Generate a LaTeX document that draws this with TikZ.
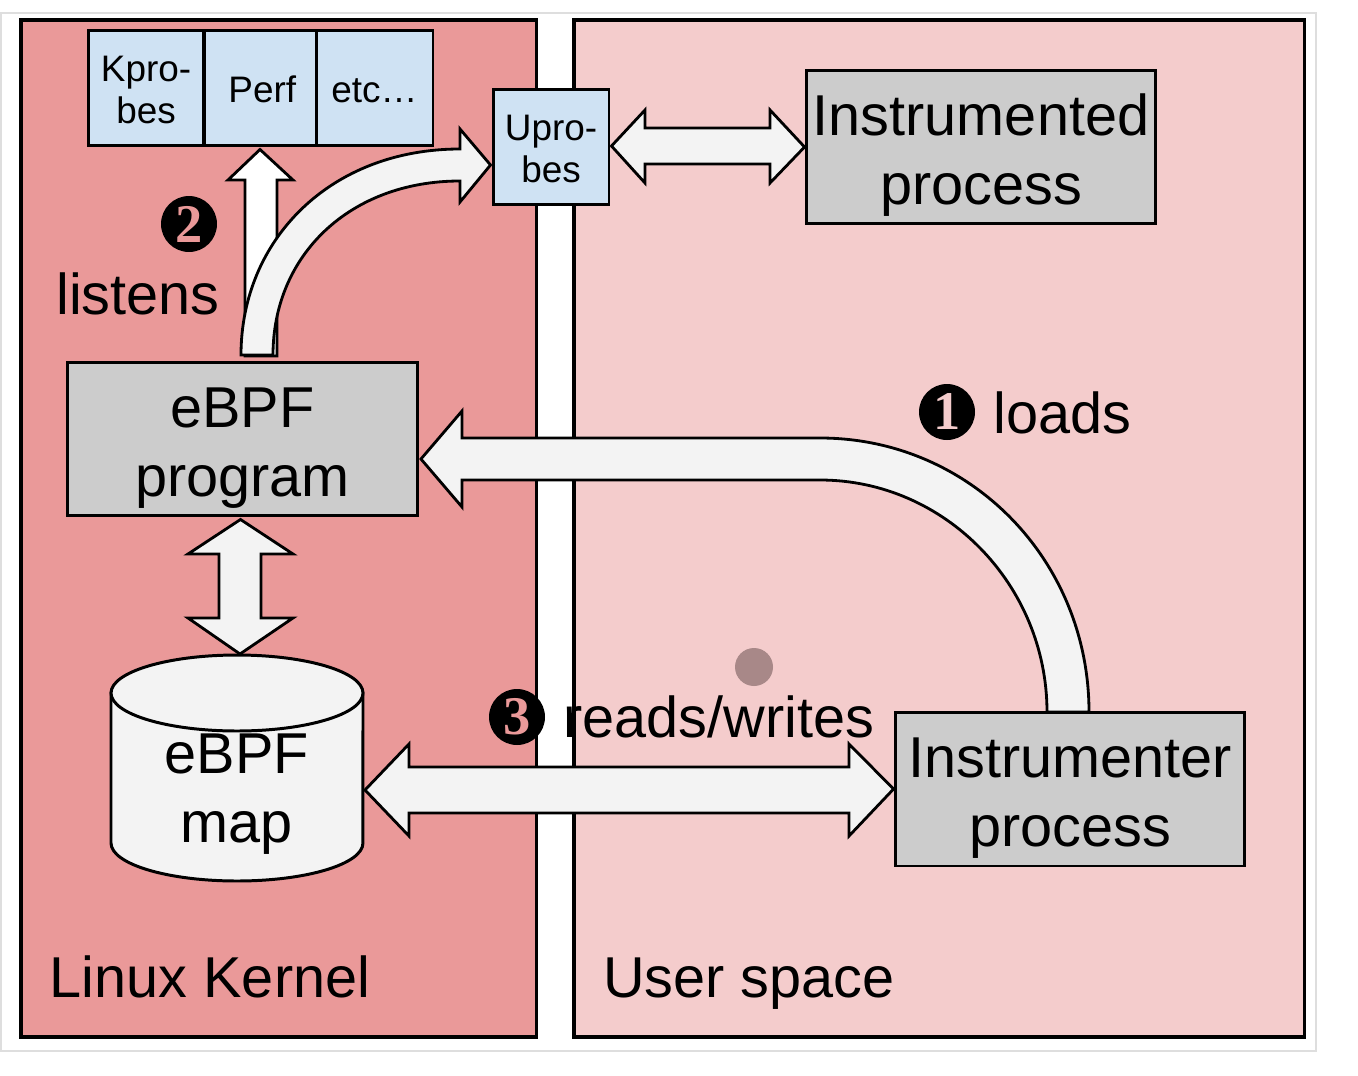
\documentclass[tikz,border=0pt]{standalone}
\usepackage{fontspec}
\setmainfont{Liberation Sans}
\newfontfamily\digitfont{Liberation Serif}
\definecolor{kernelfill}{RGB}{234, 153, 153}
\definecolor{userfill}{RGB}{244, 204, 204}
\definecolor{procfill}{RGB}{204, 204, 204}
\definecolor{probefill}{RGB}{207, 226, 243}
\definecolor{arrowfill}{RGB}{243, 243, 243}
\definecolor{dotfill}{RGB}{168, 136, 136}
\definecolor{framecol}{RGB}{222, 222, 222}
\newcommand{\procdrop}{\rule{0pt}{33pt}}
\newcommand{\probedrop}{\rule{0pt}{17pt}}
\usetikzlibrary{calc}
\tikzset{
    spacebox/.style={draw, line width=1.8pt},
    procbox/.style={draw, line width=1.7pt, fill=procfill, align=center,
        inner sep=0pt, font=\fontsize{32.8}{39}\selectfont},
    probebox/.style={draw, line width=1.7pt, fill=probefill, align=center,
        inner sep=0pt, font=\fontsize{21}{24}\selectfont},
    bigtext/.style={anchor=base west, inner sep=0pt,
        font=\fontsize{32.8}{39}\selectfont},
    blockarrow/.style={draw, line width=1.6pt, line join=miter,
        fill=arrowfill},
    stepmark/.style={circle, fill=black, inner sep=0pt, minimum size=1.12cm,
        font=\digitfont\bfseries\fontsize{31}{31}\selectfont},
}
\begin{document}
\begin{tikzpicture}[x=.02cm, y=-.02cm]
    \useasboundingbox (0, 0) rectangle (1358, 1075);
    \draw[framecol, line width=.8pt] (1, 13) rectangle (1316, 1051);
    \draw[spacebox, fill=kernelfill] (21, 20) rectangle (536.5, 1037);
    \draw[spacebox, fill=userfill] (574, 20) rectangle (1304.5, 1037);

    % probe boxes
    \node[probebox, minimum width=2.32cm, minimum height=2.32cm] (kprobes)
        at (146, 88) {\probedrop Kpro-\\bes};
    \node[probebox, minimum width=2.24cm, minimum height=2.32cm] (perf)
        at (260, 88) {\probedrop\hspace{2.6pt}Perf};
    \node[probebox, minimum width=2.34cm, minimum height=2.32cm] (etc)
        at (374.5, 88) {\probedrop etc\dots};
    \node[probebox, minimum width=2.32cm, minimum height=2.32cm] (uprobes)
        at (551, 147) {\probedrop Upro-\\bes};

    % process boxes
    \node[procbox, minimum width=7cm, minimum height=3.08cm] (instrumented)
        at (981, 147) {\procdrop Instrumented\\process};
    \node[procbox, minimum width=7cm, minimum height=3.08cm] (ebpfprog)
        at (242.5, 439) {\procdrop eBPF\\program};
    \node[procbox, minimum width=7cm, minimum height=3.08cm] (instrumenter)
        at (1070, 789) {\procdrop Instrumenter\\process};

    % map cylinder
    \draw[line width=1.7pt, fill=arrowfill] (111, 693) -- (111, 843)
        arc [start angle=180, end angle=360, x radius=2.52cm,
        y radius=.76cm] -- (363, 693) -- cycle;
    \draw[line width=1.7pt, fill=arrowfill] (237, 693) ellipse
        [x radius=2.52cm, y radius=.76cm];
    \node[align=center, inner sep=0pt, font=\fontsize{32.8}{39}\selectfont]
        (maptext) at (237, 794) {eBPF\\map};

    % listens
    \draw[blockarrow, fill=white] ($(perf.south)+(0, 2)$) -- (293, 180)
        -- (277, 180) -- (277, 356) -- (245, 356) -- (245, 180) -- (228, 180)
        -- cycle;
    % probe attach
    \draw[blockarrow] ($(uprobes.west)+(-1, 18)$) -- (460, 129) -- (460, 149)
        .. controls (330, 149) and (241, 240) .. (241, 355) -- (273, 355)
        .. controls (273, 255) and (350, 181) .. (460, 181) -- (460, 202)
        -- cycle;
    \draw[blockarrow] ($(uprobes.east)+(1, -1)$) -- (645, 110) -- (645, 128)
        -- (770, 128) -- (770, 110) -- (instrumented.west) -- (770, 183)
        -- (770, 164) -- (645, 164) -- (645, 183) -- cycle;
    % loads
    \draw[blockarrow] ($(ebpfprog.east)+(2, 20)$) -- (462, 411) -- (462, 438)
        -- (820, 438) .. controls (970, 438) and (1089, 560) .. (1089, 712)
        -- (1047, 712) .. controls (1047, 585) and (945, 480) .. (820, 480)
        -- (462, 480) -- (462, 507) -- cycle;
    % program to map
    \draw[blockarrow] ($(ebpfprog.south)+(-2, 2)$) -- (293, 554) -- (261, 554)
        -- (261, 618) -- (293, 618) -- (240, 654) -- (188, 618) -- (219, 618)
        -- (219, 554) -- (188, 554) -- cycle;
    % reads/writes
    \draw[blockarrow] (instrumenter.west) -- (849, 836) -- (849, 813)
        -- (409, 813) -- (409, 836) -- (365, 790) -- (409, 744) -- (409, 767)
        -- (849, 767) -- (849, 744) -- cycle;

    \node[fill=dotfill, circle, minimum size=.76cm, inner sep=0pt] (dot)
        at (754, 667) {};

    \node[stepmark, text=userfill] (stepone) at (947, 412) {1};
    \node[stepmark, text=kernelfill] (steptwo) at (189, 224) {2};
    \node[stepmark, text=kernelfill] (stepthree) at (517, 717) {3};

    \node[bigtext] (loads) at (993, 433) {loads};
    \node[bigtext] (listens) at (56, 314) {listens};
    \node[bigtext] (reads) at (563, 737) {reads/writes};
    \node[bigtext] (kernel) at (49.5, 997) {Linux Kernel};
    \node[bigtext] (user) at (603, 997) {User space};
\end{tikzpicture}
\end{document}
